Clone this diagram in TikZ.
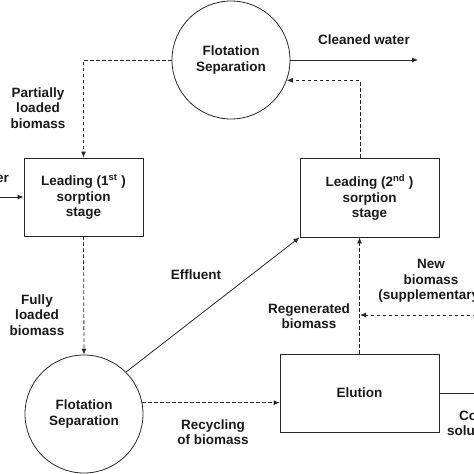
\documentclass[tikz,border=0pt]{standalone}
\usepackage{fontspec}
\setmainfont{Liberation Sans}
\usetikzlibrary{arrows.meta}
\begin{document}
\begin{tikzpicture}[x=1pt,y=-1pt,
  every node/.style={font=\fontsize{13.5}{15.5}\selectfont\bfseries, text=black!90},
  conn/.style={draw=black!85, line width=0.8pt},
  arr/.style={conn, -{Latex[length=6pt,width=5pt]}},
  dasharr/.style={arr, dash pattern=on 3.5pt off 2.5pt},
  sep/.style={circle, draw=black!85, line width=0.8pt, minimum size=118pt, inner sep=0pt, align=center},
  stepbox/.style={rectangle, draw=black!85, line width=0.8pt, inner sep=0pt, align=center},
  lbl/.style={align=center, inner sep=0pt}]
\useasboundingbox (0,0) rectangle (474,474);
\clip (0,0) rectangle (474,474);
% nodes
\node[sep] (fs1) at (231,60) {Flotation\\Separation};
\node[sep] (fs2) at (84,414) {Flotation\\Separation};
\node[stepbox, minimum width=119pt, minimum height=78pt] (b1) at (83.5,197) {Leading (1\textsuperscript{st} )\\sorption\\stage};
\node[stepbox, minimum width=139pt, minimum height=79pt] (b2) at (369.5,197.5) {Leading (2\textsuperscript{nd} )\\sorption\\stage};
\node[stepbox, minimum width=159pt, minimum height=78pt] (el) at (359.5,393) {Elution};
% free ends
\coordinate (cw) at (418,60);
\coordinate (win) at (-30,197);
\coordinate (nb) at (500,315);
\coordinate (nbend) at (360,315);
\coordinate (cs) at (500,393);
% connectors
\draw[arr] (fs1.east) -- (cw);
\draw[dasharr] (b2.north -| 360,0) |- (fs1.-20);
\draw[dasharr] (fs1.west) -| (b1.north);
\draw[arr] (win) -- (b1.west);
\draw[dasharr] (b1.south) -- (fs2.north);
\draw[arr] (fs2.45) -- (b2.south west);
\draw[dasharr] (fs2.11) -- (fs2.11 -| el.west);
\draw[dasharr] (el.north) -- (el.north |- b2.south);
\draw[dasharr] (nb) -- (nbend);
\draw[conn] (el.east) -- (cs);
% labels
\node[lbl] (l1) at (364,40) {Cleaned water};
\node[lbl] (l2) at (38,108) {Partially\\loaded\\biomass};
\node[lbl] (l3) at (37,315) {Fully\\loaded\\biomass};
\node[lbl] (l4) at (196,275) {Effluent};
\node[lbl] (l5) at (213,432) {Recycling\\of biomass};
\node[lbl] (l6) at (309,316) {Regenerated\\biomass};
\node[lbl] (l7) at (431,281) {New\\biomass\\(supplementary)};
\node[lbl, anchor=east] (l8) at (9,178) {Water};
\node[lbl, anchor=west] (l9) at (459,416) {Concentrated};
\node[lbl, anchor=west] (l10) at (447,431) {solution};
\end{tikzpicture}
\end{document}
